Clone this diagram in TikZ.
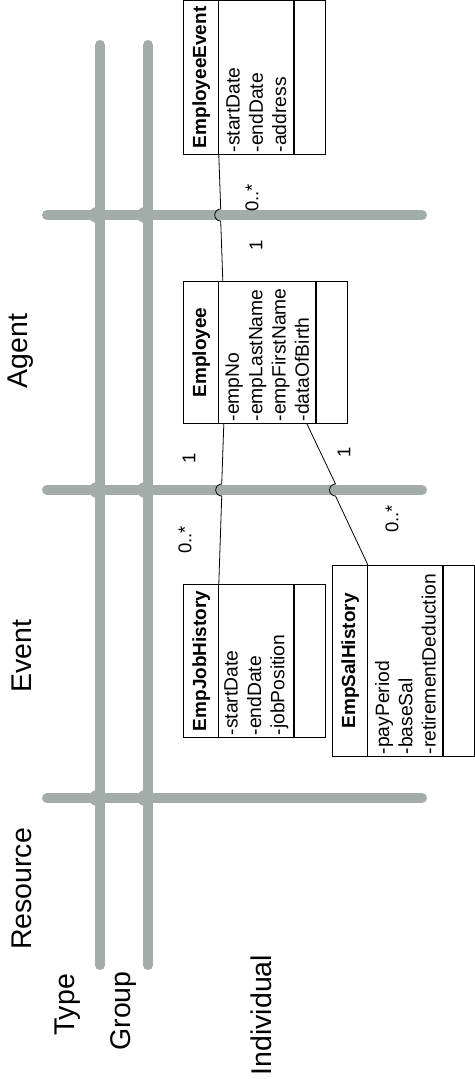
\documentclass[tikz,border=0pt]{standalone}
\usepackage{fontspec}
\setmainfont{Liberation Sans}
\usepackage{tikz}
\usetikzlibrary{positioning}
\usetikzlibrary{shapes.multipart}
\usetikzlibrary{intersections}
\definecolor{railgray}{RGB}{162,173,170}
\newcommand{\cname}[2]{\parbox[c][34pt][c]{#1}{\centering\fontsize{19}{22}\selectfont\bfseries #2}}
\newcommand{\cattr}[3]{\parbox[c][#2][c]{#1}{\raggedright\fontsize{19.3}{23.3}\selectfont #3}}
\newcommand{\cops}[1]{\parbox[c][30pt][c]{#1}{\mbox{}}}

\begin{document}
\begin{tikzpicture}[x=1pt, y=1pt,
	rail/.style={line width=10pt, line cap=round, draw=railgray},
	cls/.style={rectangle split, rectangle split parts=3, draw, line width=1.2pt, inner xsep=2pt, inner ysep=0pt, rotate=90, anchor=north west},
	link/.style={draw, line width=0.8pt},
	lbl/.style={rotate=90, inner sep=0pt, font=\fontsize{28.5}{34}\selectfont},
	mult/.style={rotate=90, inner sep=0pt, font=\fontsize{18.5}{22}\selectfont}]
	\useasboundingbox (0,0) rectangle (474,-1079);

	\draw[rail] (100,-45) -- (100,-965);
	\draw[rail] (148,-45) -- (148,-965);
	\draw[rail, name path=h0] (47,-215) -- (422,-215);
	\draw[rail, name path=h1] (47,-490) -- (422,-490);
	\draw[rail, name path=h2] (47,-798) -- (422,-798);
	\foreach \x in {100,148}
		\foreach \y in {-215,-490,-798}
			\fill[railgray] (\x-3,\y) circle (8pt);

	\node [lbl] (agent) at (21,-351) {Agent};
	\node [lbl] (event) at (22,-656) {Event};
	\node [lbl] (resource) at (22,-889) {Resource};
	\node [lbl] (type) at (68,-1005) {Type};
	\node [lbl] (group) at (124,-1011) {Group};
	\node [lbl] (individual) at (261,-1015) {Individual};

	\node [cls] (ee) at (183,-155) {\cname{150pt}{EmployeeEvent}\nodepart{two}\cattr{150pt}{74pt}{-startDate\\-endDate\\-address}\nodepart{three}\cops{150pt}};
	\node [cls] (emp) at (183,-424) {\cname{138pt}{Employee}\nodepart{two}\cattr{138pt}{96pt}{-empNo\\-empLastName\\-empFirstName\\-dataOfBirth}\nodepart{three}\cops{138pt}};
	\node [cls] (ejh) at (183,-738) {\cname{149pt}{EmpJobHistory}\nodepart{two}\cattr{149pt}{74pt}{-startDate\\-endDate\\-jobPosition}\nodepart{three}\cops{149pt}};
	\node [cls] (esh) at (332,-757) {\cname{187pt}{EmpSalHistory}\nodepart{two}\cattr{187pt}{74pt}{-payPeriod\\-baseSal\\-retirementDeduction}\nodepart{three}\cops{187pt}};

	\path[name path=c0] (ee.one split west) -- ([xshift=4pt]emp.one split east);
	\path[name intersections={of=c0 and h0, by=x0}];
	\draw[link] (ee.one split west) -- ([yshift=6pt]x0) arc[start angle=90, end angle=270, radius=6pt] -- ([xshift=4pt]emp.one split east);

	\path[name path=c1] ([xshift=5pt]emp.one split west) -- (ejh.one split east);
	\path[name intersections={of=c1 and h1, by=x1}];
	\draw[link] ([xshift=5pt]emp.one split west) -- ([yshift=6pt]x1) arc[start angle=90, end angle=270, radius=6pt] -- (ejh.one split east);

	\path[name path=c2] ([xshift=-9pt]emp.two split west) -- (esh.one split east);
	\path[name intersections={of=c2 and h1, by=x2}];
	\draw[link] ([xshift=-9pt]emp.two split west) -- ([yshift=6pt]x2) arc[start angle=90, end angle=270, radius=6pt] -- (esh.one split east);

	\node [mult] (m0) at (252,-198) {0..*};
	\node [mult] (m1) at (256,-245) {1};
	\node [mult] (m2) at (189,-458) {1};
	\node [mult] (m3) at (185,-540) {0..*};
	\node [mult] (m4) at (344,-452) {1};
	\node [mult] (m5) at (392,-519) {0..*};
\end{tikzpicture}
\end{document}
